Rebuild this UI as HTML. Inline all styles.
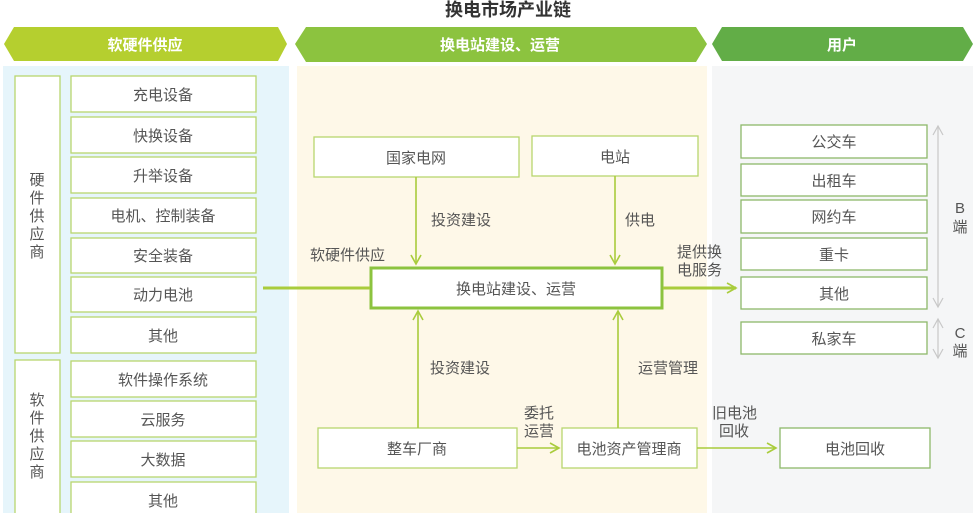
<!DOCTYPE html>
<html><head><meta charset="utf-8"><style>
body{margin:0;background:#fff}
svg{display:block}
text{font-family:"Liberation Sans","Noto Sans CJK SC",sans-serif;fill:#555;font-size:15px}
</style></head><body>
<svg width="980" height="513" viewBox="0 0 980 513" xmlns="http://www.w3.org/2000/svg">
<defs>
<marker id="ah" markerWidth="12" markerHeight="12" refX="10" refY="6" orient="auto" markerUnits="userSpaceOnUse">
<path d="M1,1 L10,6 L1,11" fill="none" stroke="#a9cc3c" stroke-width="1.6"/></marker>
<marker id="ag" markerWidth="12" markerHeight="12" refX="10" refY="6" orient="auto" markerUnits="userSpaceOnUse">
<path d="M1,1 L10,6 L1,11" fill="none" stroke="#c8c8c8" stroke-width="1.2"/></marker>
</defs>
<text x="508" y="16" text-anchor="middle" style="font-size:18px;font-weight:bold;fill:#333">换电市场产业链</text>
<polygon points="4,44 14,27 278,27 287,44 278,61 14,61" fill="#b5cf2f"/>
<polygon points="295,44 306,27 696,27 707,44 696,62 306,62" fill="#8cc33f"/>
<polygon points="712,44 722,27 963,27 973,44 963,61 722,61" fill="#62ad47"/>
<text x="145" y="50" text-anchor="middle" style="font-size:15px;font-weight:bold;fill:#fff">软硬件供应</text>
<text x="500" y="50" text-anchor="middle" style="font-size:15px;font-weight:bold;fill:#fff">换电站建设、运营</text>
<text x="842" y="50" text-anchor="middle" style="font-size:15px;font-weight:bold;fill:#fff">用户</text>
<rect x="3" y="66" width="286" height="447" fill="#e6f5fb"/>
<rect x="297" y="66" width="410" height="447" fill="#fef8e8"/>
<rect x="712" y="66" width="261" height="447" fill="#f5f6f7"/>
<g fill="#fff" stroke="#b8d66e" stroke-width="1.3">
<rect x="15" y="76" width="45" height="277"/>
<rect x="15" y="360" width="45" height="160"/>
<rect x="71" y="76" width="185" height="36"/>
<rect x="71" y="117" width="185" height="36"/>
<rect x="71" y="157" width="185" height="36"/>
<rect x="71" y="198" width="185" height="35"/>
<rect x="71" y="238" width="185" height="35"/>
<rect x="71" y="277" width="185" height="35"/>
<rect x="71" y="317" width="185" height="36"/>
<rect x="71" y="361" width="185" height="36"/>
<rect x="71" y="401" width="185" height="36"/>
<rect x="71" y="441" width="185" height="36"/>
<rect x="71" y="482" width="185" height="40"/>
</g>
<g text-anchor="middle">
<text x="163" y="100">充电设备</text>
<text x="163" y="141">快换设备</text>
<text x="163" y="181">升举设备</text>
<text x="163" y="221">电机、控制装备</text>
<text x="163" y="261">安全装备</text>
<text x="163" y="300">动力电池</text>
<text x="163" y="341">其他</text>
<text x="163" y="385">软件操作系统</text>
<text x="163" y="425">云服务</text>
<text x="163" y="465">大数据</text>
<text x="163" y="506">其他</text>
<text x="37" y="185">硬</text><text x="37" y="203">件</text><text x="37" y="221">供</text><text x="37" y="239">应</text><text x="37" y="257">商</text>
<text x="37" y="405">软</text><text x="37" y="423">件</text><text x="37" y="441">供</text><text x="37" y="459">应</text><text x="37" y="477">商</text>
</g>
<g fill="#fff" stroke="#b8d66e" stroke-width="1.3">
<rect x="314" y="137" width="205" height="40"/>
<rect x="532" y="136" width="166" height="40"/>
<rect x="318" y="428" width="199" height="40"/>
<rect x="562" y="428" width="135" height="40"/>
</g>
<rect x="371" y="268" width="291" height="40" fill="#fff" stroke="#8cc33f" stroke-width="3"/>
<g stroke="#a9cc3c" stroke-width="1.6" fill="none">
<line x1="416" y1="177" x2="416" y2="264" marker-end="url(#ah)"/>
<line x1="615" y1="176" x2="615" y2="264" marker-end="url(#ah)"/>
<line x1="418" y1="428" x2="418" y2="311" marker-end="url(#ah)"/>
<line x1="618" y1="428" x2="618" y2="311" marker-end="url(#ah)"/>
<line x1="517" y1="448" x2="559" y2="448" marker-end="url(#ah)"/>
<line x1="697" y1="448" x2="776" y2="448" marker-end="url(#ah)"/>
</g>
<line x1="263" y1="288" x2="370" y2="288" stroke="#a9cc3c" stroke-width="3"/>
<line x1="663" y1="288" x2="736" y2="288" stroke="#a9cc3c" stroke-width="3" marker-end="url(#ah)"/>
<g text-anchor="middle">
<text x="416" y="163">国家电网</text>
<text x="615" y="162">电站</text>
<text x="516" y="294">换电站建设、运营</text>
<text x="417" y="454">整车厂商</text>
<text x="629" y="454">电池资产管理商</text>
</g>
<text x="431" y="225">投资建设</text>
<text x="625" y="225">供电</text>
<text x="310" y="260">软硬件供应</text>
<text x="430" y="373">投资建设</text>
<text x="638" y="373">运营管理</text>
<text x="524" y="418">委托</text><text x="524" y="436">运营</text>
<text x="712" y="418">旧电池</text><text x="719" y="436">回收</text>
<text x="677" y="257">提供换</text><text x="677" y="275">电服务</text>
<g fill="#fff" stroke="#8db86a" stroke-width="1.3">
<rect x="741" y="125" width="186" height="33"/>
<rect x="741" y="164" width="186" height="32"/>
<rect x="741" y="200" width="186" height="33"/>
<rect x="741" y="238" width="186" height="32"/>
<rect x="741" y="277" width="186" height="32"/>
<rect x="741" y="322" width="186" height="32"/>
<rect x="780" y="428" width="150" height="40"/>
</g>
<g text-anchor="middle">
<text x="834" y="147">公交车</text>
<text x="834" y="186">出租车</text>
<text x="834" y="222">网约车</text>
<text x="834" y="260">重卡</text>
<text x="834" y="299">其他</text>
<text x="834" y="344">私家车</text>
<text x="855" y="454">电池回收</text>
<text x="960" y="213">B</text><text x="960" y="232">端</text>
<text x="960" y="338">C</text><text x="960" y="356">端</text>
</g>
<g stroke="#c8c8c8" stroke-width="1.2">
<line x1="938" y1="200" x2="938" y2="126" marker-end="url(#ag)"/>
<line x1="938" y1="200" x2="938" y2="307" marker-end="url(#ag)"/>
<line x1="938" y1="338" x2="938" y2="319" marker-end="url(#ag)"/>
<line x1="938" y1="338" x2="938" y2="358" marker-end="url(#ag)"/>
</g>
</svg>
</body></html>
